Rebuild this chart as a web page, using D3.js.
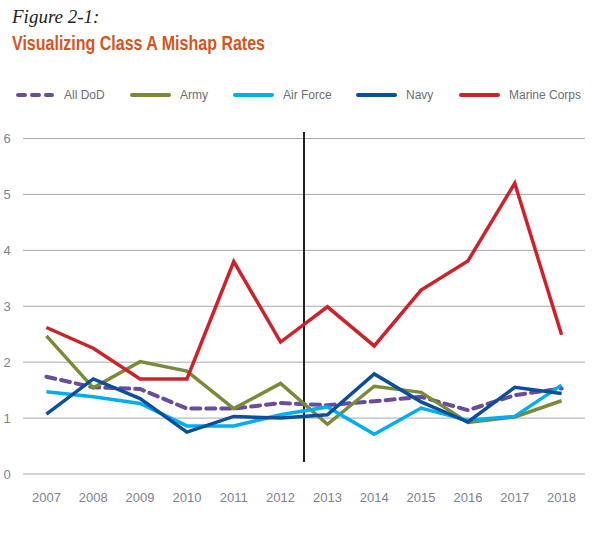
<!DOCTYPE html>
<html>
<head>
<meta charset="utf-8">
<script src="https://cdn.jsdelivr.net/npm/d3@7"></script>
<style>
  body { margin: 0; background: #fff; }
  text { font-family: "Liberation Sans", Arial, sans-serif; }
</style>
</head>
<body>
<script>
const w = 595;
const h = 536;

const years = [2007, 2008, 2009, 2010, 2011, 2012, 2013, 2014, 2015, 2016, 2017, 2018];
const yTicks = [0, 1, 2, 3, 4, 5, 6];

const allDod = [1.74, 1.55, 1.52, 1.17, 1.17, 1.27, 1.23, 1.30, 1.38, 1.14, 1.41, 1.53];
const army = [2.47, 1.54, 2.01, 1.84, 1.17, 1.62, 0.89, 1.57, 1.46, 0.92, 1.02, 1.31];
const airForce = [1.47, 1.38, 1.26, 0.86, 0.86, 1.06, 1.20, 0.71, 1.18, 0.96, 1.03, 1.59];
const navy = [1.07, 1.70, 1.35, 0.75, 1.03, 1.00, 1.06, 1.79, 1.29, 0.93, 1.55, 1.44];
const marineCorps = [2.62, 2.25, 1.70, 1.70, 3.80, 2.36, 2.99, 2.29, 3.29, 3.81, 5.20, 2.49];

const series = [
	{ name: 'All DoD', values: allDod, color: '#6a4c9c', dash: '9,6' },
	{ name: 'Army', values: army, color: '#7b8a38', dash: null },
	{ name: 'Air Force', values: airForce, color: '#00aeef', dash: null },
	{ name: 'Navy', values: navy, color: '#0b4f9b', dash: null },
	{ name: 'Marine Corps', values: marineCorps, color: '#cc2229', dash: null }
];

const svg = d3.select('body').append('svg').attr('width', w).attr('height', h);

// title
svg.append('text')
	.attr('x', 12).attr('y', 23)
	.style('font-family', '"Liberation Serif", "DejaVu Serif", serif')
	.style('font-style', 'italic')
	.style('font-size', '19px')
	.attr('fill', '#231f20')
	.text('Figure 2-1:');

svg.append('text')
	.attr('x', 12).attr('y', 50)
	.style('font-size', '20px')
	.style('font-weight', 'bold')
	.attr('fill', '#d3561f')
	.attr('textLength', 253)
	.attr('lengthAdjust', 'spacingAndGlyphs')
	.text('Visualizing Class A Mishap Rates');

const x = d3.scalePoint().domain(years).range([23, 585]).padding(0.5);
const y = d3.scaleLinear().domain([0, 6]).range([474, 138.5]);

// gridlines
svg.append('g')
	.selectAll('line')
	.data(yTicks)
	.enter()
	.append('line')
	.attr('x1', 23).attr('x2', 585)
	.attr('y1', d => y(d)).attr('y2', d => y(d))
	.attr('stroke', '#a7a9ac')
	.attr('stroke-width', 1);

// y labels
svg.append('g')
	.selectAll('text')
	.data(yTicks)
	.enter()
	.append('text')
	.attr('x', 7)
	.attr('y', d => y(d) + 4.5)
	.attr('text-anchor', 'middle')
	.attr('fill', '#7d8290')
	.style('font-size', '13px')
	.text(d => d);

// x labels
svg.append('g')
	.selectAll('text')
	.data(years)
	.enter()
	.append('text')
	.attr('x', d => x(d))
	.attr('y', 502)
	.attr('text-anchor', 'middle')
	.attr('fill', '#7d8290')
	.style('font-size', '13px')
	.text(d => d);

// divider between 2012 and 2013
const divX = (x(2012) + x(2013)) / 2;
svg.append('line')
	.attr('x1', divX).attr('x2', divX)
	.attr('y1', 132).attr('y2', 462)
	.attr('stroke', '#231f20')
	.attr('stroke-width', 2);

const line = d3.line()
	.x((d, i) => x(years[i]))
	.y(d => y(d));

svg.append('g')
	.selectAll('path')
	.data(series)
	.enter()
	.append('path')
	.attr('d', d => line(d.values))
	.attr('fill', 'none')
	.attr('stroke', d => d.color)
	.attr('stroke-width', d => (d.dash ? 4 : 3.5))
	.attr('stroke-dasharray', d => d.dash)
	.attr('stroke-linecap', d => (d.dash ? 'round' : 'butt'));

// legend
const legendX = [16, 132, 235, 358, 461];
const legend = svg.append('g')
	.selectAll('g')
	.data(series)
	.enter()
	.append('g')
	.attr('transform', (d, i) => 'translate(' + legendX[i] + ',95)');

legend.append('line')
	.attr('x1', d => (d.dash ? 2 : 0)).attr('x2', d => (d.dash ? 36 : 37))
	.attr('y1', 0).attr('y2', 0)
	.attr('stroke', d => d.color)
	.attr('stroke-width', 4)
	.attr('stroke-linecap', 'round')
	.attr('stroke-dasharray', d => (d.dash ? '7,7' : null));

legend.append('text')
	.attr('x', 48)
	.attr('y', 4)
	.attr('fill', '#6d6e71')
	.style('font-size', '12px')
	.text(d => d.name);
</script>
</body>
</html>
